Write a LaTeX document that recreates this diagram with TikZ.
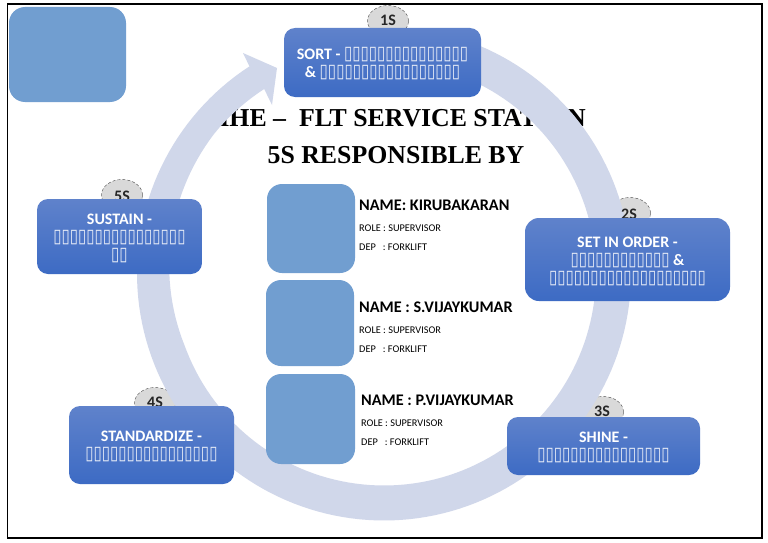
\documentclass[tikz,border=0pt]{standalone}
\usepackage{fontspec}
\setmainfont{Carlito}
\newfontfamily\titlefont{Liberation Serif}
\newfontfamily\tofufont[FakeStretch=0.79]{DejaVu Sans}
\definecolor{ringc}{HTML}{D0D7EA}
\definecolor{topb}{HTML}{5F82CB}
\definecolor{botb}{HTML}{3D6BC4}
\definecolor{squarec}{HTML}{719ED0}
\newcommand{\tf}[1]{{\color{white!85!topb}\tofufont\fontsize{19}{18}\selectfont #1}}
\newcommand{\boxfont}{\bfseries\fontsize{16}{18}\selectfont\setlength{\lineskiplimit}{-20pt}}
\tikzset{
  x=1pt,y=-1pt,
  stepbox/.style={rounded corners=11pt,top color=topb,bottom color=botb,draw=none,shading angle=0},
  phbox/.style={fill=squarec,draw=none,rounded corners=15pt},
  badge/.style={ellipse,draw=black!70,densely dashed,line width=0.4pt,fill=black!15,minimum width=41pt,minimum height=31pt,inner sep=0pt},
  badgetext/.style={font=\bfseries\fontsize{16}{18}\selectfont,text=black!85,inner sep=0pt},
  boxtext/.style={align=center,text=white,font=\boxfont,inner sep=0pt,yshift=-1.5pt},
  nametext/.style={anchor=west,inner sep=0pt,font=\bfseries\fontsize{16.2}{18}\selectfont},
  smalltext/.style={anchor=west,inner sep=0pt,yshift=-0.5pt,font=\fontsize{10.3}{12}\selectfont},
  titletext/.style={inner sep=0pt,font=\titlefont\bfseries\fontsize{25.8}{28}\selectfont}
}
\usetikzlibrary{shapes.geometric}
\begin{document}
\begin{tikzpicture}
\useasboundingbox (0,0) rectangle (768,543);
\fill[white] (0,0) rectangle (768,543);
\draw[line width=1.6pt] (7.5,4) rectangle (762,538);
% title under the ring
\node[titletext,anchor=east] (t1) at (586,118) {MHE –\ \ FLT SERVICE STATION};
\node[titletext] (t2) at (396,155) {5S RESPONSIBLE BY};
% badges
\node[badge] (e1) at (388,21) {};
\node[badge] (e2) at (630,213) {};
\node[badge] (e3) at (603,412) {};
\node[badge] (e4) at (155,403) {};
\node[badge] (e5) at (122,195) {};
% ring
\def\cx{384}\def\cy{273.5}
\fill[ringc]
  plot[domain=15:327,samples=160] ({\cx+247*sin(\x)},{\cy-247*cos(\x)})
  -- (243,53) -- (277,68) -- (272,105)
  -- plot[domain=327:15,samples=160] ({\cx+(212+8*min(1,max(0,(\x-250)/60)))*sin(\x)},{\cy-(212+8*min(1,max(0,(\x-250)/60)))*cos(\x)}) -- cycle;
\node[badgetext] (l1) at (388,20) {1S};
\node[badgetext] (l2) at (629,214) {2S};
\node[badgetext] (l3) at (602,411) {3S};
\node[badgetext] (l4) at (155,402) {4S};
\node[badgetext] (l5) at (122,196) {5S};
% corner and portraits
\node[phbox,minimum width=117pt,minimum height=95pt,inner sep=0pt,rounded corners=16pt] (corner) at (67.5,54.5) {};
\node[phbox,minimum width=88pt,minimum height=89pt,inner sep=0pt] (p1) at (311,228.5) {};
\node[phbox,minimum width=88pt,minimum height=86pt,inner sep=0pt] (p2) at (310,323) {};
\node[phbox,minimum width=89pt,minimum height=90pt,inner sep=0pt] (p3) at (310.5,419) {};
% step boxes
\node[stepbox,minimum width=197pt,minimum height=69pt,inner sep=0pt] (b1) at (382.5,62.5) {};
\node[boxtext] at (b1.center) {SORT - \tf{▯▯▯▯▯▯▯▯▯▯▯▯▯▯▯}\\\& \tf{▯▯▯▯▯▯▯▯▯▯▯▯▯▯▯▯▯}};
\node[stepbox,minimum width=205pt,minimum height=83pt,inner sep=0pt,rounded corners=14pt] (b2) at (627.5,259.5) {};
\node[boxtext] at (b2.center) {SET IN ORDER -\\\tf{▯▯▯▯▯▯▯▯▯▯▯▯} \&\\\tf{▯▯▯▯▯▯▯▯▯▯▯▯▯▯▯▯▯▯▯}};
\node[stepbox,minimum width=193pt,minimum height=58pt,inner sep=0pt] (b3) at (603.5,446) {};
\node[boxtext] at (b3.center) {SHINE -\\\tf{▯▯▯▯▯▯▯▯▯▯▯▯▯▯▯▯}};
\node[stepbox,minimum width=165pt,minimum height=78pt,inner sep=0pt] (b4) at (151.5,445) {};
\node[boxtext] at (b4.center) {STANDARDIZE -\\\tf{▯▯▯▯▯▯▯▯▯▯▯▯▯▯▯▯}};
\node[stepbox,minimum width=165pt,minimum height=75pt,inner sep=0pt] (b5) at (119.5,236.5) {};
\node[boxtext] at (b5.center) {SUSTAIN -\\\tf{▯▯▯▯▯▯▯▯▯▯▯▯▯▯▯▯}\\\tf{▯▯}};
% names
\node[nametext] (n1) at (359,205) {NAME: KIRUBAKARAN};
\node[smalltext] (r1) at (359,227.5) {ROLE : SUPERVISOR};
\node[smalltext] (d1) at (359,246.5) {DEP\ \ \ : FORKLIFT};
\node[nametext] (n2) at (359,307) {NAME : S.VIJAYKUMAR};
\node[smalltext] (r2) at (359,330) {ROLE : SUPERVISOR};
\node[smalltext] (d2) at (359,348.5) {DEP\ \ \ : FORKLIFT};
\node[nametext] (n3) at (361,400) {NAME : P.VIJAYKUMAR};
\node[smalltext] (r3) at (361,423) {ROLE : SUPERVISOR};
\node[smalltext] (d3) at (361,441.5) {DEP\ \ \ : FORKLIFT};
\end{tikzpicture}
\end{document}
